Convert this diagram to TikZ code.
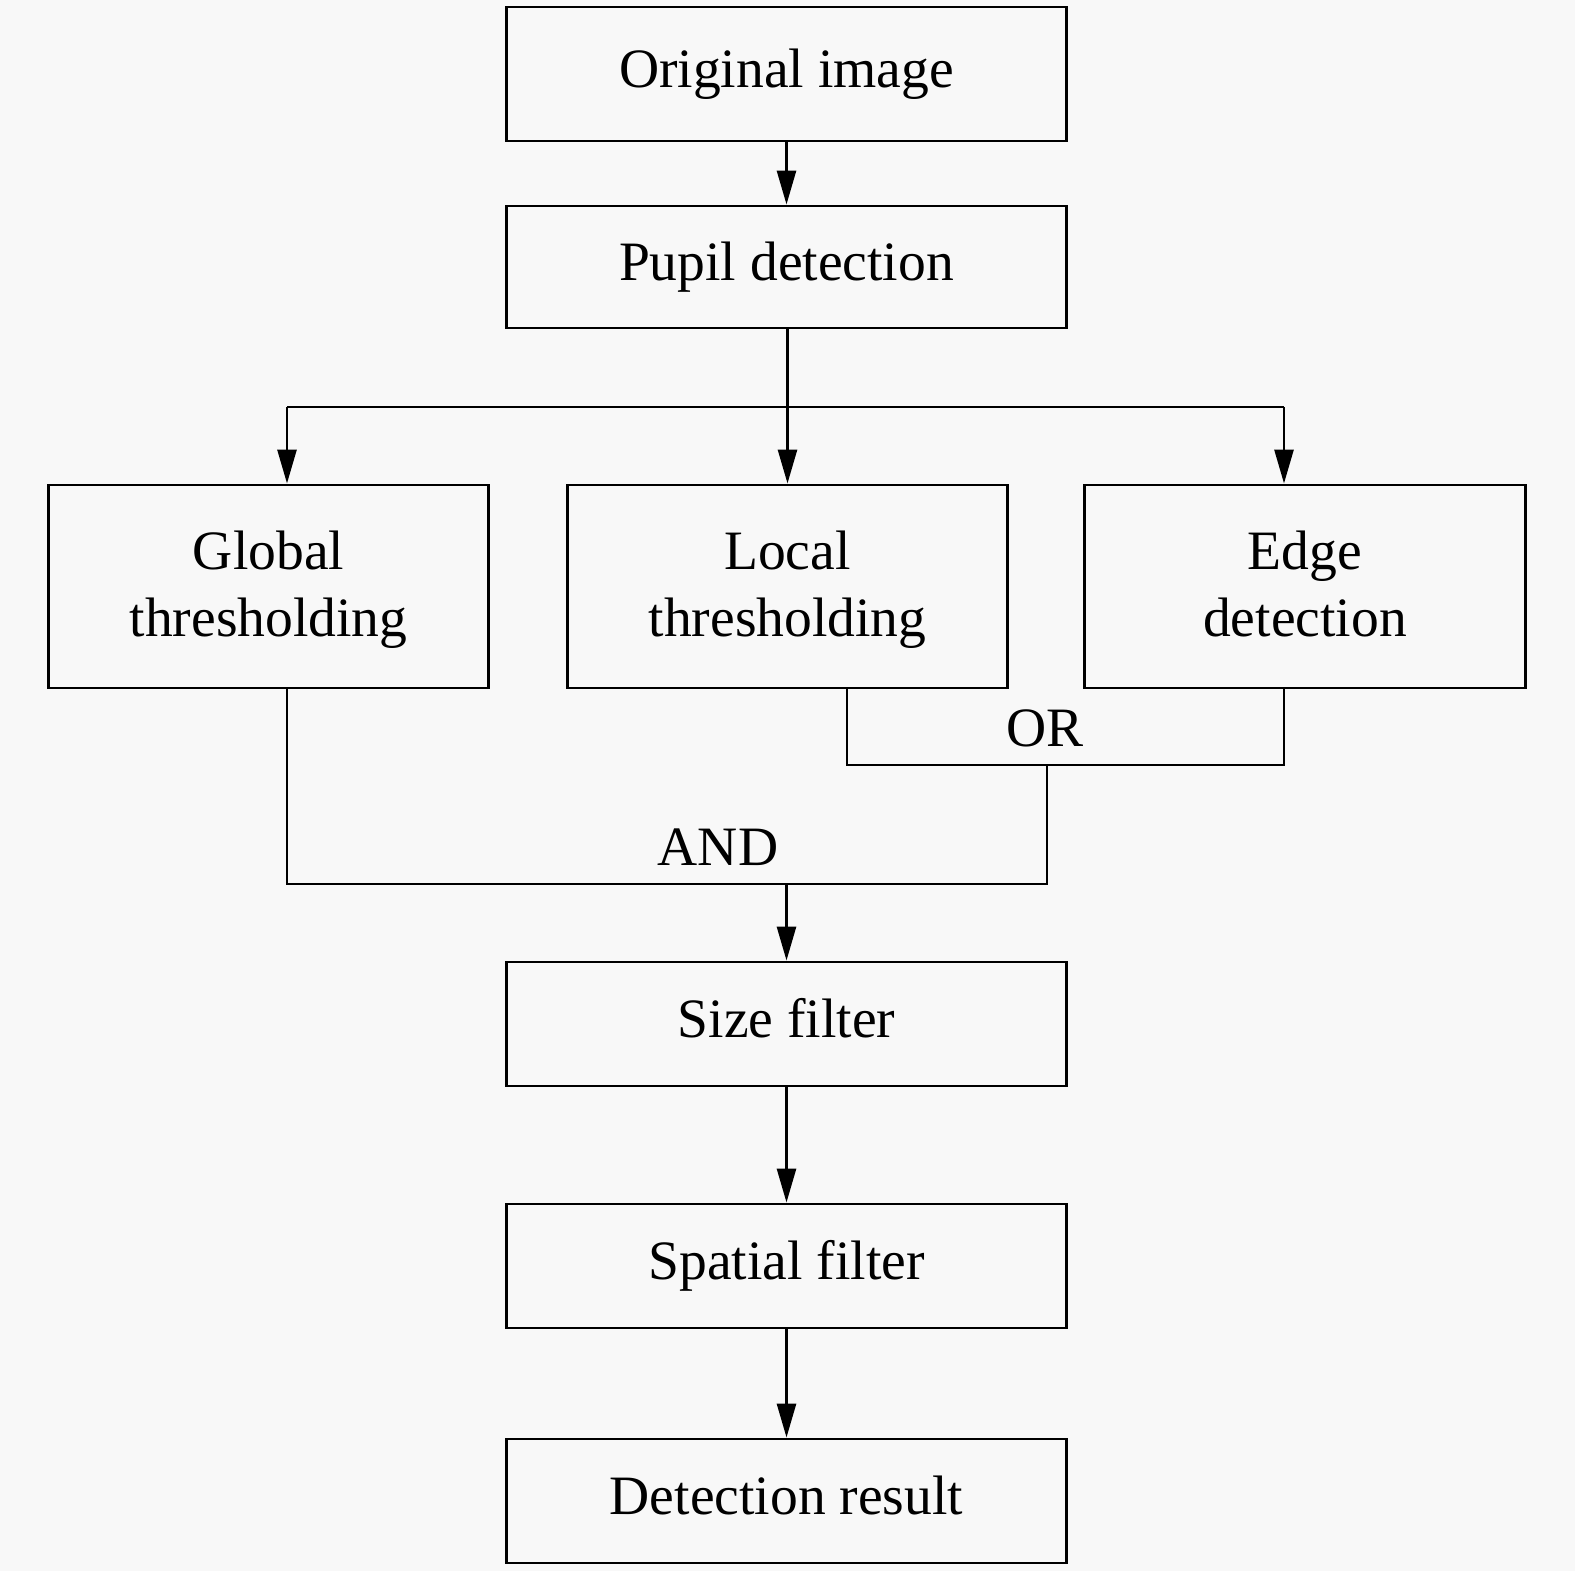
\documentclass[tikz,border=0pt]{standalone}
\usepackage{fontspec}
\setmainfont{Liberation Serif}
\usepackage{tikz}
\usetikzlibrary{arrows.meta,calc}
\definecolor{paper}{HTML}{F8F8F8}
\definecolor{ink}{HTML}{000000}
\newcommand{\topline}{\rule{0pt}{0.53cm}}
\tikzset{
  procbox/.style={
    draw=ink, line width=0.8pt, fill=paper,
    minimum width=5.6cm, minimum height=1.23cm, align=center,
    inner sep=0pt, font=\fontsize{15.8}{19}\selectfont,
    execute at begin node=\strut
  },
  widebox/.style={procbox, minimum width=4.4cm, minimum height=2.03cm},
  link/.style={draw=ink, line width=0.8pt},
  flow/.style={link, -{Triangle[length=3.4mm,width=1.9mm]}},
  gatelabel/.style={font=\fontsize{15.8}{19}\selectfont, text=ink, inner sep=0pt}
}
\begin{document}
\begin{tikzpicture}[x=0.01cm,y=-0.01cm]
  \fill[paper] (0,0) rectangle (1575,1571);
  \useasboundingbox (0,0) rectangle (1575,1571);

  \node[procbox, minimum height=1.34cm] (orig) at (786.5,74) {Original image};
  \node[procbox, minimum height=1.22cm] (pupil) at (786.5,267) {Pupil detection};

  \node[widebox] (glob) at (268.5,586.5) {\topline Global\\thresholding\strut};
  \node[widebox] (loc) at (787.5,586.5) {\topline Local\\thresholding\strut};
  \node[widebox] (edge) at (1305,586.5) {\topline Edge\\detection\strut};

  \node[procbox, minimum height=1.24cm] (size) at (786.5,1024) {Size filter};
  \node[procbox, minimum height=1.24cm] (spat) at (786.5,1266) {Spatial filter};
  \node[procbox, minimum height=1.24cm] (result) at (786.5,1501) {Detection result};

  \draw[flow] (orig) -- (pupil);

  % split into the three detectors
  \coordinate (split) at (787.5,407);
  \coordinate (bl) at (287,407);
  \coordinate (br) at (1284,407);
  \draw[link] (pupil.south -| split) -- (split);
  \draw[link] (bl) -- (br);
  \draw[flow] (bl) -- (bl |- glob.north);
  \draw[flow] (split) -- (loc.north);
  \draw[flow] (br) -- (br |- edge.north);

  % OR of local and edge
  \coordinate (orl) at (847,765);
  \coordinate (orr) at (1284,765);
  \coordinate (orm) at (1047,765);
  \draw[link] (orl |- loc.south) -- (orl) -- (orr) -- (orr |- edge.south);
  \node[gatelabel] (orlab) at (1045,728) {OR};

  % AND with global
  \coordinate (andl) at (287,884);
  \coordinate (andr) at (1047,884);
  \draw[link] (andl |- glob.south) -- (andl) -- (andr) -- (orm);
  \node[gatelabel] (andlab) at (718,847) {AND};
  \draw[flow] (size.north |- andl) -- (size.north);

  \draw[flow] (size) -- (spat);
  \draw[flow] (spat) -- (result);
\end{tikzpicture}
\end{document}
